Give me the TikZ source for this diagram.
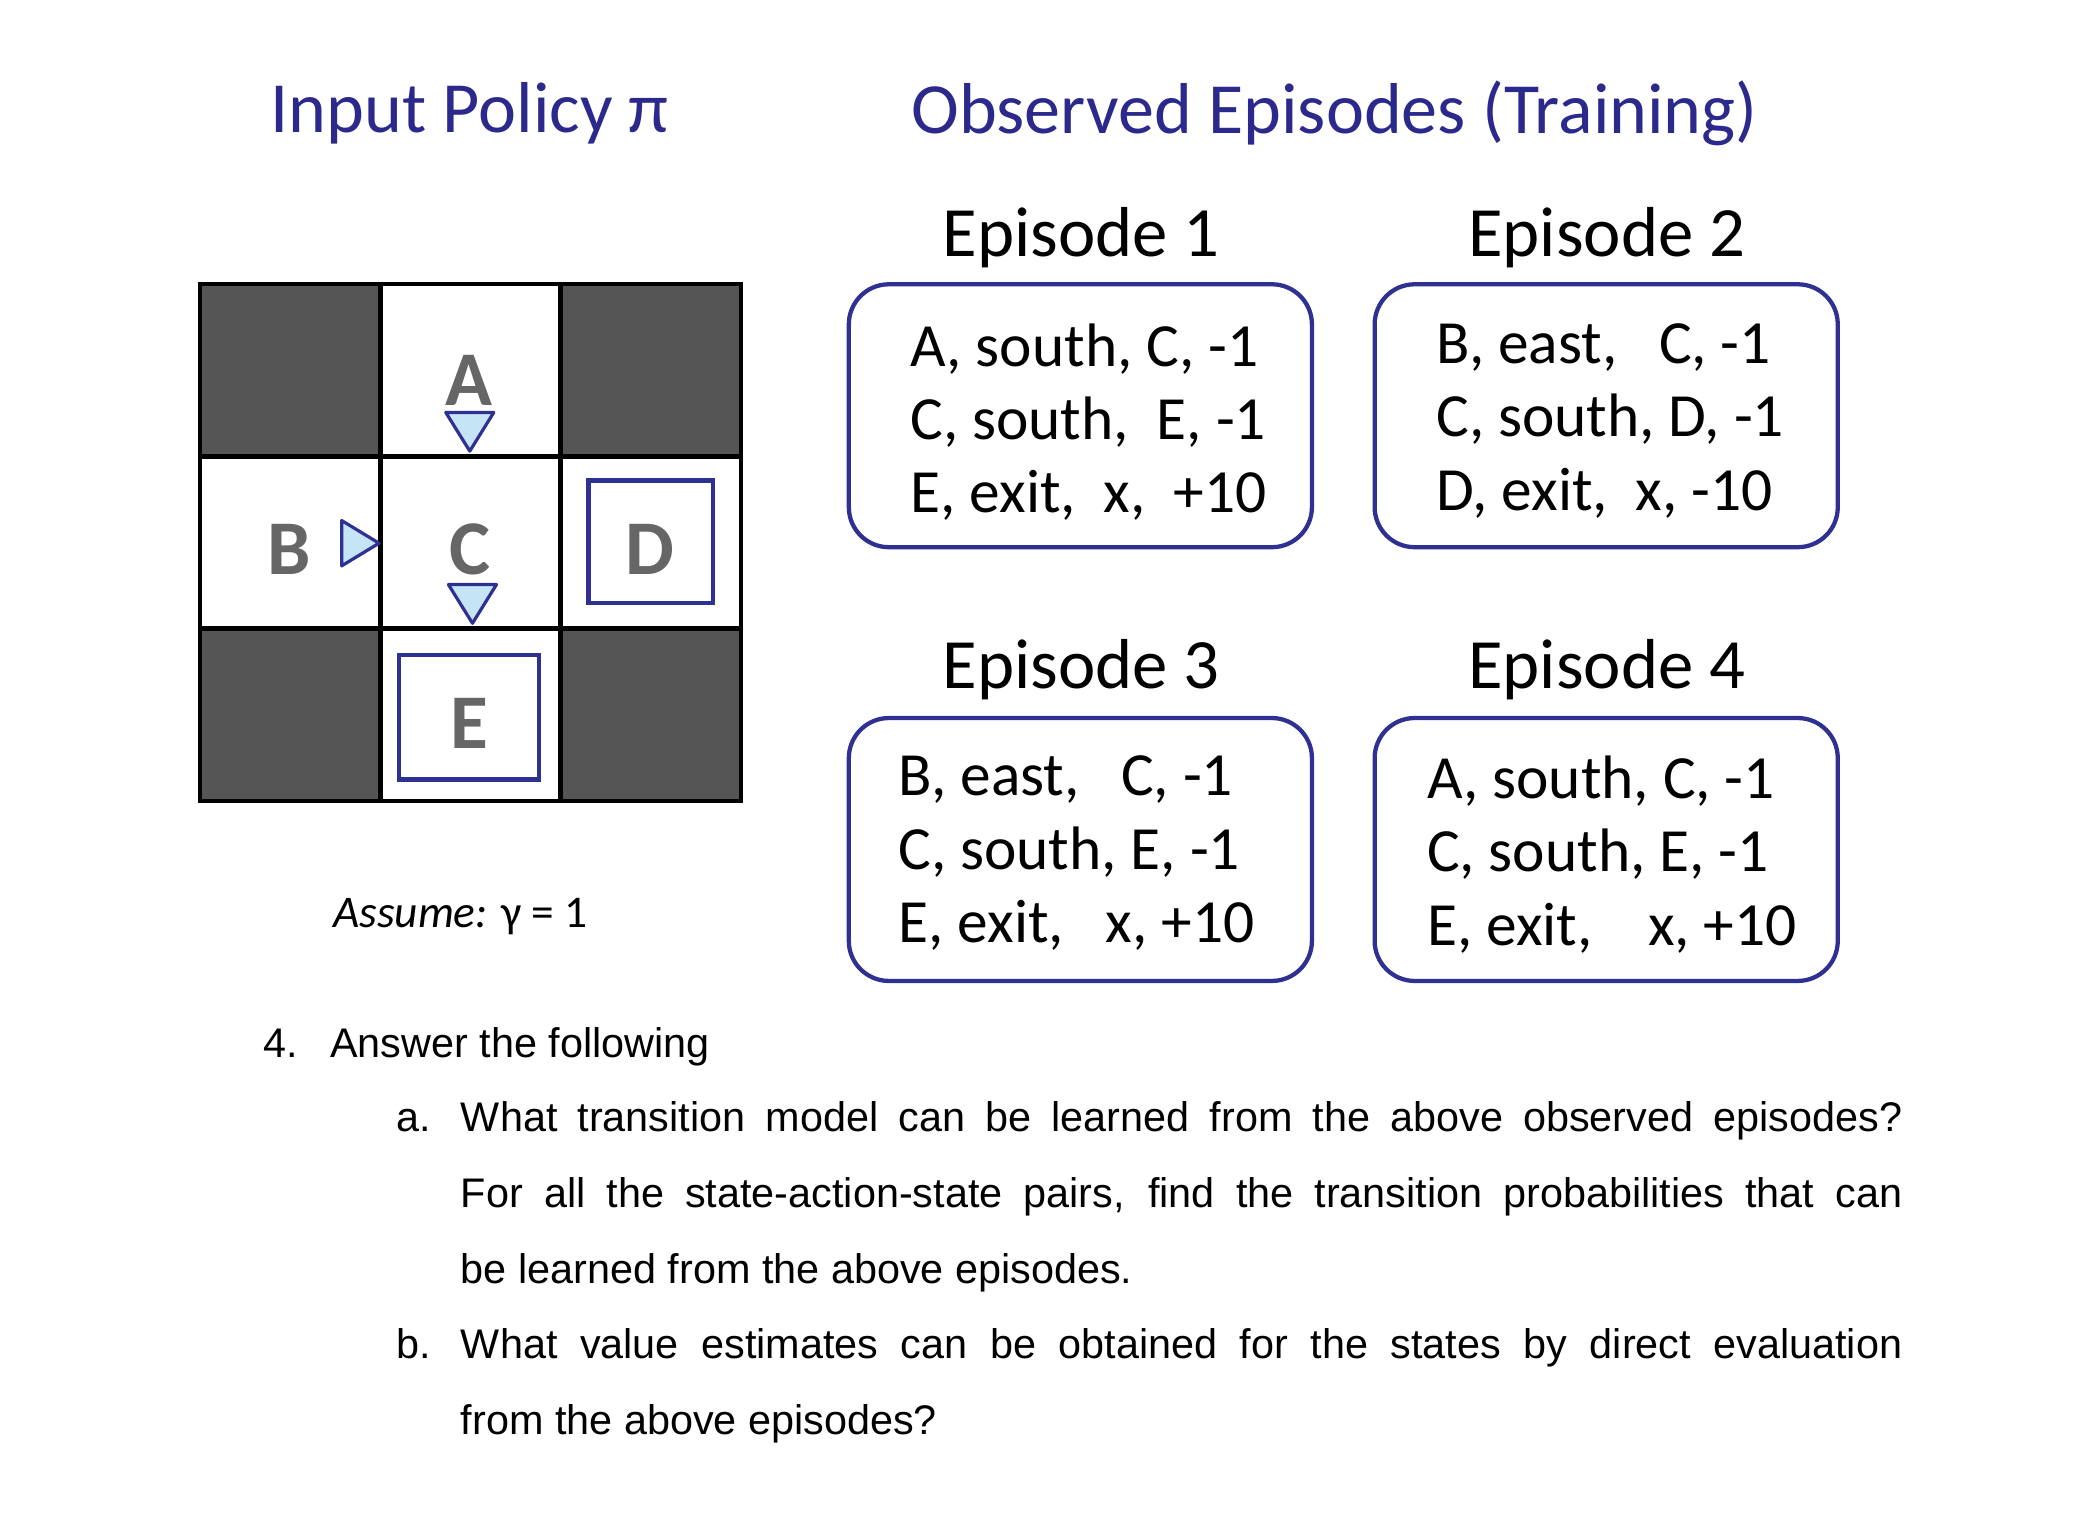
\documentclass[tikz,border=0pt]{standalone}
\usepackage{fontspec}
\setmainfont{Carlito}
\newfontfamily\arialf{Liberation Sans}
\definecolor{tblue}{HTML}{2B2A8C}
\definecolor{bblue}{HTML}{2E3192}
\definecolor{dgray}{HTML}{555555}
\definecolor{lgray}{HTML}{666666}
\definecolor{triblue}{HTML}{C5E4F5}
\begin{document}
\begin{tikzpicture}[x=0.5pt,y=-0.5pt,
  title/.style={text=tblue,font=\fontsize{27}{32}\selectfont,inner sep=0},
  ephead/.style={font=\fontsize{26.5}{30}\selectfont,inner sep=0},
  eptext/.style={font=\fontsize{23}{27.5}\selectfont,inner sep=0,anchor=north west,align=left},
  epbox/.style={draw=bblue,line width=1.6pt,rounded corners=15pt},
  letter/.style={text=lgray,font=\fontsize{29}{32}\selectfont\bfseries,inner sep=0},
  tri/.style={draw=bblue,fill=triblue,line width=1.2pt,line join=round},
  qtext/.style={font=\arialf\fontsize{15.5}{18}\selectfont,inner sep=0,anchor=base west}]
\useasboundingbox (0,0) rectangle (1560,1136);
\node[title] (t1) at (352,85) {Input Policy π};
\node[title] (t2) at (1000,85) {Observed Episodes (Training)};
% grid
\foreach \c/\r in {0/0,2/0,0/2,2/2}
  \fill[dgray] (150+135*\c,213+129*\r) rectangle ++(135,129);
\draw[line width=1.6pt] (150,213) rectangle (555,600);
\draw[line width=1.6pt] (285,213) -- (285,600) (420,213) -- (420,600)
  (150,342) -- (555,342) (150,471) -- (555,471);
\node[letter] (A) at (351,285) {A};
\node[letter] (B) at (217,412) {B};
\node[letter] (C) at (352,412) {C};
\draw[bblue,line width=1.6pt] (441,360) rectangle (534,452);
\node[letter] (D) at (487,412) {D};
\draw[bblue,line width=1.6pt] (299,491) rectangle (404,584);
\node[letter] (E) at (352,542) {E};
\draw[tri] (334,309) -- (370,309) -- (352,338) -- cycle;
\draw[tri] (336,438) -- (372,438) -- (354,467) -- cycle;
\draw[tri] (256,390) -- (256,424) -- (284,407) -- cycle;
\node[font=\fontsize{17}{20}\selectfont,inner sep=0] (g) at (345,687) {\textit{Assume:} γ = 1};
% episodes
\node[ephead] (h1) at (810,178) {Episode 1};
\node[ephead] (h2) at (1204,178) {Episode 2};
\node[ephead] (h3) at (810,502) {Episode 3};
\node[ephead] (h4) at (1204,502) {Episode 4};
\draw[epbox] (636,213) rectangle (983,410);
\draw[epbox] (1030,213) rectangle (1377,410);
\draw[epbox] (636,538) rectangle (983,735);
\draw[epbox] (1030,538) rectangle (1377,735);
\node[eptext] (e1) at (682,242) {A, south, C, -1\\C, south,\ \ E, -1\\E, exit,\ \ x,\ \ +10};
\node[eptext] (e2) at (1076,242) {B, east,\ \ \ C, -1\\C, south, D, -1\\D, exit,\ \ x, -10};
\node[eptext] (e3) at (673,566) {B, east,\ \ \ C, -1\\C, south, E, -1\\E, exit,\ \ \ x, +10};
\node[eptext] (e4) at (1069,566) {A, south, C, -1\\C, south, E, -1\\E, exit,\ \ \ \ x, +10};
% question
\node[qtext] (q4) at (197,792) {4.};
\node[qtext] (q4t) at (247,792) {Answer the following};
\node[qtext] (qa) at (297,848) {a.};
\node[qtext] (qa1) at (345,848) {\makebox[540pt][s]{What transition model can be learned from the above observed episodes?}};
\node[qtext] (qa2) at (345,905) {\makebox[540pt][s]{For all the state-action-state pairs, find the transition probabilities that can}};
\node[qtext] (qa3) at (345,962) {be learned from the above episodes.};
\node[qtext] (qb) at (297,1018) {b.};
\node[qtext] (qb1) at (345,1018) {\makebox[540pt][s]{What value estimates can be obtained for the states by direct evaluation}};
\node[qtext] (qb2) at (345,1075) {from the above episodes?};
\end{tikzpicture}
\end{document}
